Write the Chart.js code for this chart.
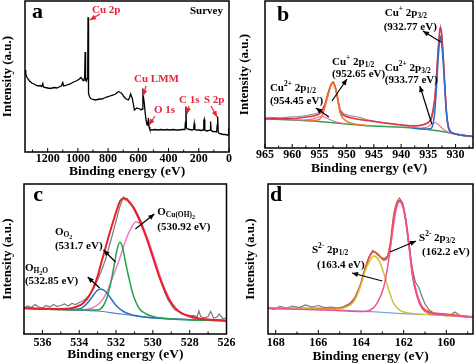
<!DOCTYPE html>
<html>
<head>
<meta charset="utf-8">
<script src="https://cdn.jsdelivr.net/npm/chart.js@4/dist/chart.umd.min.js"></script>
<style>
html,body{margin:0;padding:0;background:#fff;overflow:hidden}
canvas{position:absolute}
</style>
</head>
<body>
<canvas id="pa" width="237" height="180" style="left:0;top:0"></canvas>
<canvas id="pb" width="237" height="180" style="left:237px;top:0"></canvas>
<canvas id="pc" width="237" height="183" style="left:0;top:180px"></canvas>
<canvas id="pd" width="237" height="185" style="left:237px;top:180px"></canvas>
<script>
// ---- (a) survey ----
const surveyE = [1350,1345,1338,1330,1320,1305,1290,1275,1262,1250,1240,1232,1228,1215,1200,1185,1170,1155,1140,1125,1110,1100,1095,1080,1065,1050,1035,1020,1005,990,980,972,966,960,955,952,949,944,939,935,933,931,928,922,915,900,885,870,855,840,825,810,795,780,765,750,740,730,720,712,704,696,685,675,666,658,651,646,640,632,626,618,610,600,590,582,575,570,566,560,554,548,542,537,533,529,524,510,490,470,450,430,410,390,370,350,330,310,292,288,285,282,276,260,245,235,230,226,215,200,185,172,167,164,160,150,135,125,122,118,108,95,82,78,75,71,64,50,38,25,12,5,2,0];
const surveyI = [82,78,75,73,71,69,68,66.5,66,66.5,65.5,68.5,65,64.5,64,63.5,64,64.5,64,65,66,69.5,66,66.5,67.5,68,69.5,70.5,71.5,73,74.5,73,71.5,72.5,75,100,72,71,73.5,76,134.7,70,58.5,55,53.5,52.5,52,52.5,53,53,54,55,55.5,56.5,57,58,59.5,60.5,59.5,59,57.5,55.5,53.5,52.5,52,54.5,58,56,53.5,47,42,43,44,43.5,43,42,43,63.5,55,48,38,31,27,29,34,25,22.5,22,22.5,22,22.5,22,22.5,22,22.5,22,22,22.5,22.5,30,45.5,24,23,22.5,22,22.5,28.5,22.5,22,22,21.5,22,31,32.5,22,21,21.5,22,30.5,21.5,20.5,20.5,20,27,35.5,20,18.5,18,17.5,17.5,17,17,23,24];

// ---- (b) Cu 2p ----
const bRawE = [965,963.5,962,960.5,959,958,957.4,956.5,955.5,954.6,954,953.4,952.9,952.5,952.1,951.8,951.2,950.5,949.5,948.5,947.5,946.5,945.5,944,942.5,941,939.5,938,937,936,935.2,934.6,934.2,933.8,933.5,933.2,932.95,932.77,932.55,932.25,931.95,931.65,931.35,931,930.3,929.5,928.5,927.5,926.8];
const bRawI = [30,30.5,30,31,31.5,32,32.5,33.5,34.5,37,44,55,63,66,61,54,38,34,32.5,31.5,30.5,28.5,27.5,26,25,24,23,22.5,22.5,23.5,25,28,37,50,72,98,115,121,114,90,60,35,22,16.5,14,13,12.2,11.8,11.5];
const bFitE = [965,960,957.4,955.5,954.6,954,953.4,952.9,952.5,952.1,951.8,951.2,950.3,949,947,945,943,940,938,936.5,935.5,934.8,934.4,934.1,933.8,933.5,933.2,932.95,932.77,932.55,932.25,931.95,931.65,931.35,931,930,928,926.8];
const bFitI = [29.5,29.5,31,33,36,43,55,63,66,61,54,37,32,30,28,26.5,25,23,22,22.5,24,26.5,30,38,50,72,98,115,121,114,90,60,35,22,17,14,12.3,11.5];
const bBgE = [965,960,956,953,950,947,944,941,938,935,933,931,929,926.8];
const bBgI = [29,28,27,25.5,24,22.5,21.8,21,20,18.5,17,15,13,11.5];
const cu1p32E = [938,935.5,934.6,934.3,933.9,933.6,933.3,933.05,932.77,932.5,932.2,931.9,931.6,931.3,930.9,930.3,929,926.8];
const cu1p32I = [20,18.8,19.5,21,32,52,80,100,112,101,80,52,30,20,16,14.5,13,11.5];
const cu2p32E = [938,936.5,935.6,935,934.5,934.1,933.77,933.4,932.9,932.3,931.6,931,930,929];
const cu2p32I = [20,19.8,20.3,21.5,23.5,25,25.5,24.5,22,19,16.5,15.3,14.3,13];
const cu1p12E = [957,955.5,954.6,954,953.4,952.9,952.5,952.1,951.8,951.2,950.3,949.1,948,946];
const cu1p12I = [27.3,27.8,31,41,53,62,65.3,60,53,35,28,24.7,23.5,22.5];
const cu2p12E = [960,958,957,956.2,955.4,954.8,954.45,954,953.3,952.5,951.5,950];
const cu2p12I = [28.3,28,28.3,29.2,30.5,31.5,31.8,31,29,27,25.5,24];

// ---- (c) O 1s ----
const cRawE = [537,536.8,536.6,536.4,536.2,536,535.8,535.6,535.4,535.2,535,534.8,534.6,534.4,534.2,534,533.8,533.6,533.4,533.2,533,532.8,532.6,532.4,532.2,532,531.8,531.6,531.5,531.4,531.2,531,530.8,530.6,530.4,530.2,530,529.8,529.6,529.4,529.2,529,528.8,528.6,528.4,528.2,528,527.8,527.6,527.5,527.4,527.2,527,526.86,526.7,526.5,526.4,526.2,526];
const cRawI = [26,28,26.5,29.5,27,26,28.5,27,29.5,27.5,28.5,30,28,30.5,29.5,31.5,33,36,40,46,54,63,73,86,99,113,127,137,134,135.5,131,126,119,111,100,89,78,66,55,44,35,29,24,22.5,20,19,17.5,18.5,17,23,17.5,16,17.5,22.5,16,17,20,15.5,16];
const cFitE = [537,536,535,534.5,534.15,533.79,533.43,533.07,532.71,532.35,531.99,531.77,531.54,531.3,531.09,530.73,530.37,530.01,529.65,529.29,528.93,528.57,528.21,527.5,527,526];
const cFitI = [25.7,25.3,25,25.5,27.3,30.7,39,54,77.3,100.7,122.3,133.3,135.7,132.3,127.3,114,97.3,77.3,57.3,40.7,29,22.3,19,15.5,14.5,13.5];
const cBgE = [537,535,534,533,532,531,530,529,528,527,526];
const cBgI = [25.7,25,24,23,20.7,18.3,16.3,15,14.3,14,13.3];
const oH2OE = [537,535.5,534.5,534,533.6,533.3,533.05,532.85,532.6,532.3,532,531.6,531.2,530.5,529.5,528,526];
const oH2OI = [25.7,25.3,24.5,25,30,37,43,45,43,36,28.5,22.5,19.5,17,15.5,14.3,13.3];
const oO2E = [537,534,533,532.7,532.5,532.3,532.1,531.95,531.8,531.65,531.5,531.3,531.1,530.9,530.7,530.4,530,529,526];
const oO2I = [25.7,24,24,28,36,50,69,84,91.7,87,73,56,41,31,24.5,20.5,17.5,15,13.3];
const oOHE = [537,534,533.3,532.89,532.53,532.17,531.81,531.45,531.15,530.91,530.7,530.55,530.19,529.83,529.47,529.11,528.75,528.39,528,527,526];
const oOHI = [25.7,24,26,30.7,40.7,57.3,75,95,107,112.3,110.5,107.3,90.7,70.7,50.7,35.7,25.7,20.7,17,14.5,13.3];

// ---- (d) S 2p ----
const dRawE = [168.36,168.1,167.8,167.5,167.2,166.9,166.6,166.3,166,165.7,165.4,165.1,164.8,164.5,164.3,164,163.8,163.6,163.45,163.3,163.1,162.9,162.75,162.6,162.45,162.3,162.2,162.05,161.9,161.75,161.6,161.45,161.3,161.15,161,160.8,160.6,160.3,160,159.8,159.6,159.4,159.2,158.9,158.75];
const dRawI = [27,24.5,27.5,26,28,26.5,29,27,28.5,26.5,27,26,27.5,31,36,50,66,78,83.5,81,77,75.5,78,93,120,133,136,131,115,90,66,52,47,38,30,24,21,19.5,18,19,22,19,18,17.5,18];
const dFitE = [168.36,165.9,165.12,164.65,164.34,164.03,163.79,163.56,163.4,163.17,162.93,162.78,162.62,162.47,162.31,162.2,162.04,161.89,161.73,161.58,161.37,161.14,160.83,160.12,158.75];
const dFitI = [25.7,25.7,25.3,28,34,49,66.7,79,82.3,79,74,75.7,90.7,117.3,131.3,133.3,129,112.3,85.7,59,39,27.3,22.3,20,16.7];
const dBgE = [168.36,166,164.5,163.5,162.3,161,160.4,159.5,158.75];
const dBgI = [25.7,24.8,23.5,22.3,20.7,19.5,19,17.8,16.7];
const s12E = [168.36,166.68,165.12,164.65,164.34,164.03,163.79,163.56,163.4,163.17,162.93,162.7,162.47,162.15,161.68,160.43,158.75];
const s12I = [25.7,25.3,24.7,27.3,32.3,47.3,64,74,78,74,60.7,44,30.7,23.3,20.7,19,16.7];
const s32E = [168.36,165.12,163.87,163.56,163.25,162.93,162.7,162.51,162.36,162.2,162.04,161.89,161.73,161.58,161.37,161.14,160.83,160.12,158.75];
const s32I = [25.7,23.5,22.5,24,30.7,47.3,74,104,124,132.3,127.3,110.7,84,57.3,37.3,25.7,20.7,19,16.7];

const serif = "'Liberation Serif', 'Times New Roman', serif";
const red = '#e32636';
Chart.defaults.font.family = serif;
Chart.defaults.font.weight = 'bold';
Chart.defaults.color = '#000';

function pts(xs, ys) { return xs.map((x, i) => ({x: x, y: ys[i]})); }

function line(xs, ys, color, width, smooth) {
  return {data: pts(xs, ys), borderColor: color, borderWidth: width, pointRadius: 0,
    fill: false, cubicInterpolationMode: smooth ? 'monotone' : 'default', tension: 0};
}

// text with ^{sup}, _{sub}, ~{subsub}
function rich(ctx, str, x, y, size, color, align) {
  const parts = [];
  const re = /(\^|_|~)\{([^}]*)\}|([^^_~]+)/g;
  let m;
  while ((m = re.exec(str))) {
    if (m[3]) parts.push({t: m[3], s: size, dy: 0});
    else if (m[1] === '^') parts.push({t: m[2], s: size * 0.68, dy: -size * 0.33});
    else if (m[1] === '_') parts.push({t: m[2], s: size * 0.68, dy: size * 0.3});
    else parts.push({t: m[2], s: size * 0.55, dy: size * 0.5});
  }
  ctx.textBaseline = 'middle';
  ctx.textAlign = 'left';
  ctx.fillStyle = color;
  let w = 0;
  parts.forEach(p => { ctx.font = 'bold ' + p.s + 'px ' + serif; p.w = ctx.measureText(p.t).width; w += p.w; });
  let cx = align === 'right' ? x - w : x;
  parts.forEach(p => { ctx.font = 'bold ' + p.s + 'px ' + serif; ctx.fillText(p.t, cx, y + p.dy); cx += p.w; });
}

function arrow(ctx, x1, y1, x2, y2, color) {
  ctx.strokeStyle = color; ctx.fillStyle = color; ctx.lineWidth = 1.2;
  ctx.beginPath(); ctx.moveTo(x1, y1); ctx.lineTo(x2, y2); ctx.stroke();
  const a = Math.atan2(y2 - y1, x2 - x1), L = 6, W = 2.6;
  ctx.beginPath();
  ctx.moveTo(x2, y2);
  ctx.lineTo(x2 - L * Math.cos(a) + W * Math.sin(a), y2 - L * Math.sin(a) - W * Math.cos(a));
  ctx.lineTo(x2 - L * Math.cos(a) - W * Math.sin(a), y2 - L * Math.sin(a) + W * Math.cos(a));
  ctx.closePath(); ctx.fill();
}

const frame = {
  id: 'frame',
  afterDraw(chart, args, o) {
    const {ctx, chartArea: c, scales: {x, y}} = chart;
    ctx.save();
    ctx.strokeStyle = '#000'; ctx.lineWidth = 1.5;
    ctx.strokeRect(c.left, c.top, c.right - c.left, c.bottom - c.top);
    ctx.lineWidth = 1;
    const half = o.step / 2;
    for (let v = Math.ceil(x.min / half) * half; v <= x.max + 1e-9; v += half) {
      const px = x.getPixelForValue(v);
      const major = Math.abs(v / o.step - Math.round(v / o.step)) < 1e-6;
      ctx.beginPath(); ctx.moveTo(px, c.bottom); ctx.lineTo(px, c.bottom - (major ? 4 : 2.5)); ctx.stroke();
    }
    (o.arrows || []).forEach(a => arrow(ctx, x.getPixelForValue(a[0]), y.getPixelForValue(a[1]),
      x.getPixelForValue(a[2]), y.getPixelForValue(a[3]), a[4] || '#000'));
    (o.notes || []).forEach(n => rich(ctx, n[2], x.getPixelForValue(n[0]), y.getPixelForValue(n[1]),
      n[3], n[4] || '#000', n[5]));
    ctx.restore();
  }
};
Chart.register(frame);

function panel(id, o) {
  new Chart(document.getElementById(id), {
    type: 'line',
    data: {datasets: o.sets},
    options: {
      responsive: false, animation: false, parsing: true,
      layout: {padding: o.pad},
      plugins: {legend: {display: false}, tooltip: {enabled: false},
        frame: {step: o.step, notes: o.notes, arrows: o.arrows}},
      scales: {
        x: {type: 'linear', reverse: true, min: o.min, max: o.max,
          afterFit: s => { s.height = o.xh; },
          grid: {display: false, drawTicks: false}, border: {display: false},
          ticks: {stepSize: o.step, includeBounds: false, maxRotation: 0, autoSkip: false,
            padding: o.tp, color: '#000', font: {size: 12, weight: 'bold'}, callback: v => String(v)},
          title: {display: true, text: 'Binding energy (eV)', color: '#000',
            font: {size: 13.5, weight: 'bold'}, padding: {top: 0, bottom: o.titlePad}}},
        y: {type: 'linear', min: 0, max: o.ymax,
          afterFit: s => { s.width = o.yw; },
          grid: {display: false, drawTicks: false}, border: {display: false},
          ticks: {display: false},
          title: {display: true, text: 'Intensity (a.u.)', color: '#000',
            font: {size: 13, weight: 'bold'}, padding: {top: o.yPad, bottom: 0}}}
      }
    }
  });
}

panel('pa', {
  min: 0, max: 1350, step: 200, ymax: 151, xh: 28, yw: 25, tp: 0, titlePad: 0.5, yPad: 0,
  pad: {top: 1, right: 8, left: 0, bottom: 0},
  sets: [line(surveyE, surveyI, '#000', 1.3, false)],
  notes: [[1304, 140, 'a', 22], [39.7, 141, 'Survey', 11, '#000', 'right'],
    [906.7, 142, 'Cu 2p', 11, red], [628.7, 73, 'Cu LMM', 11, red], [496, 42, 'O 1s', 11, red],
    [331, 52, 'C 1s', 11, red], [165.5, 52, 'S 2p', 11, red]],
  arrows: [[853.7, 138, 920, 132, red], [549, 66, 569, 56, red], [490, 36, 529, 27, red],
    [265, 46, 278, 38, red], [119, 46, 79, 35, red]]
});

panel('pb', {
  min: 926.8, max: 965, step: 5, ymax: 147, xh: 32, yw: 28, tp: 0, titlePad: 3, yPad: 0,
  pad: {top: 1, right: 1, left: 0, bottom: 0},
  sets: [line(cu1p32E, cu1p32I, '#2a6fc8', 1.5, true),
    line(cu1p12E, cu1p12I, '#f07a22', 1.5, true),
    line(cu2p32E, cu2p32I, '#ec6aa8', 1.2, true),
    line(cu2p12E, cu2p12I, '#ec6aa8', 1.2, true),
    line(bFitE, bFitI, '#e8304a', 1.6, true),
    line(bBgE, bBgI, '#35a04a', 1.5, true),
    line(bRawE, bRawI, '#8a8a8a', 1.2, false)],
  notes: [[962.8, 133, 'b', 22],
    [943, 135, 'Cu^{+} 2p_{3/2}', 11], [943.2, 121, '(932.77 eV)', 11],
    [952.7, 86, 'Cu^{+} 2p_{1/2}', 11], [952.7, 74, '(952.65 eV)', 11],
    [943, 80, 'Cu^{2+} 2p_{3/2}', 11], [943, 68, '(933.77 eV)', 11],
    [964.1, 60, 'Cu^{2+} 2p_{1/2}', 11], [964.1, 47, '(954.45 eV)', 11]],
  arrows: [[932.7, 106, 936.0, 117], [952.7, 47, 949.95, 69], [934.36, 24, 936.56, 62], [953.26, 31, 955.64, 40]]
});

panel('pc', {
  min: 526, max: 537, step: 2, ymax: 150, xh: 29, yw: 24, tp: 1.5, titlePad: 0, yPad: 0,
  pad: {top: 4, right: 9, left: 0, bottom: 0},
  sets: [line(cFitE, cFitI, '#e8202c', 2, true),
    line(oO2E, oO2I, '#22a34a', 1.5, true),
    line(oH2OE, oH2OI, '#2f6fc0', 1.5, true),
    line(oOHE, oOHI, '#f07cc8', 1.5, true),
    line(cBgE, cBgI, '#4a86c8', 1.2, true),
    line(cRawE, cRawI, '#7a7a7a', 1.2, false)],
  notes: [[536.5, 139, 'c', 22],
    [529.76, 122, 'O_{Cu(OH)}~{2}', 11], [529.76, 107, '(530.92 eV)', 11],
    [535.32, 102, 'O_{O}~{2}', 11], [535.32, 88, '(531.7 eV)', 11],
    [536.95, 66, 'O_{H}~{2}_{O}', 11], [536.95, 53, '(532.85 eV)', 11]],
  arrows: [[530.95, 105, 529.92, 120], [532.03, 72, 532.68, 84], [532.89, 46, 533.54, 57]]
});

panel('pd', {
  min: 158.75, max: 168.36, step: 2, ymax: 150, xh: 31, yw: 31, tp: 1.5, titlePad: 0.5, yPad: 5.7,
  pad: {top: 4, right: 1, left: 0, bottom: 0},
  sets: [line(s32E, s32I, '#f0509a', 1.5, true),
    line(s12E, s12I, '#c8c63c', 1.5, true),
    line(dFitE, dFitI, '#e8503a', 1.8, true),
    line(dBgE, dBgI, '#7aa8e0', 1.2, true),
    line(dRawE, dRawI, '#777', 1.2, false)],
  notes: [[168.27, 139, 'd', 22],
    [161.28, 96, 'S^{2-} 2p_{3/2}', 11], [161.14, 82, '(162.2 eV)', 11],
    [166.3, 84, 'S^{2-} 2p_{1/2}', 11], [166.06, 69, '(163.4 eV)', 11]],
  arrows: [[162.64, 82, 161.42, 93], [163.0, 53, 164.42, 61]]
});
</script>
</body>
</html>
